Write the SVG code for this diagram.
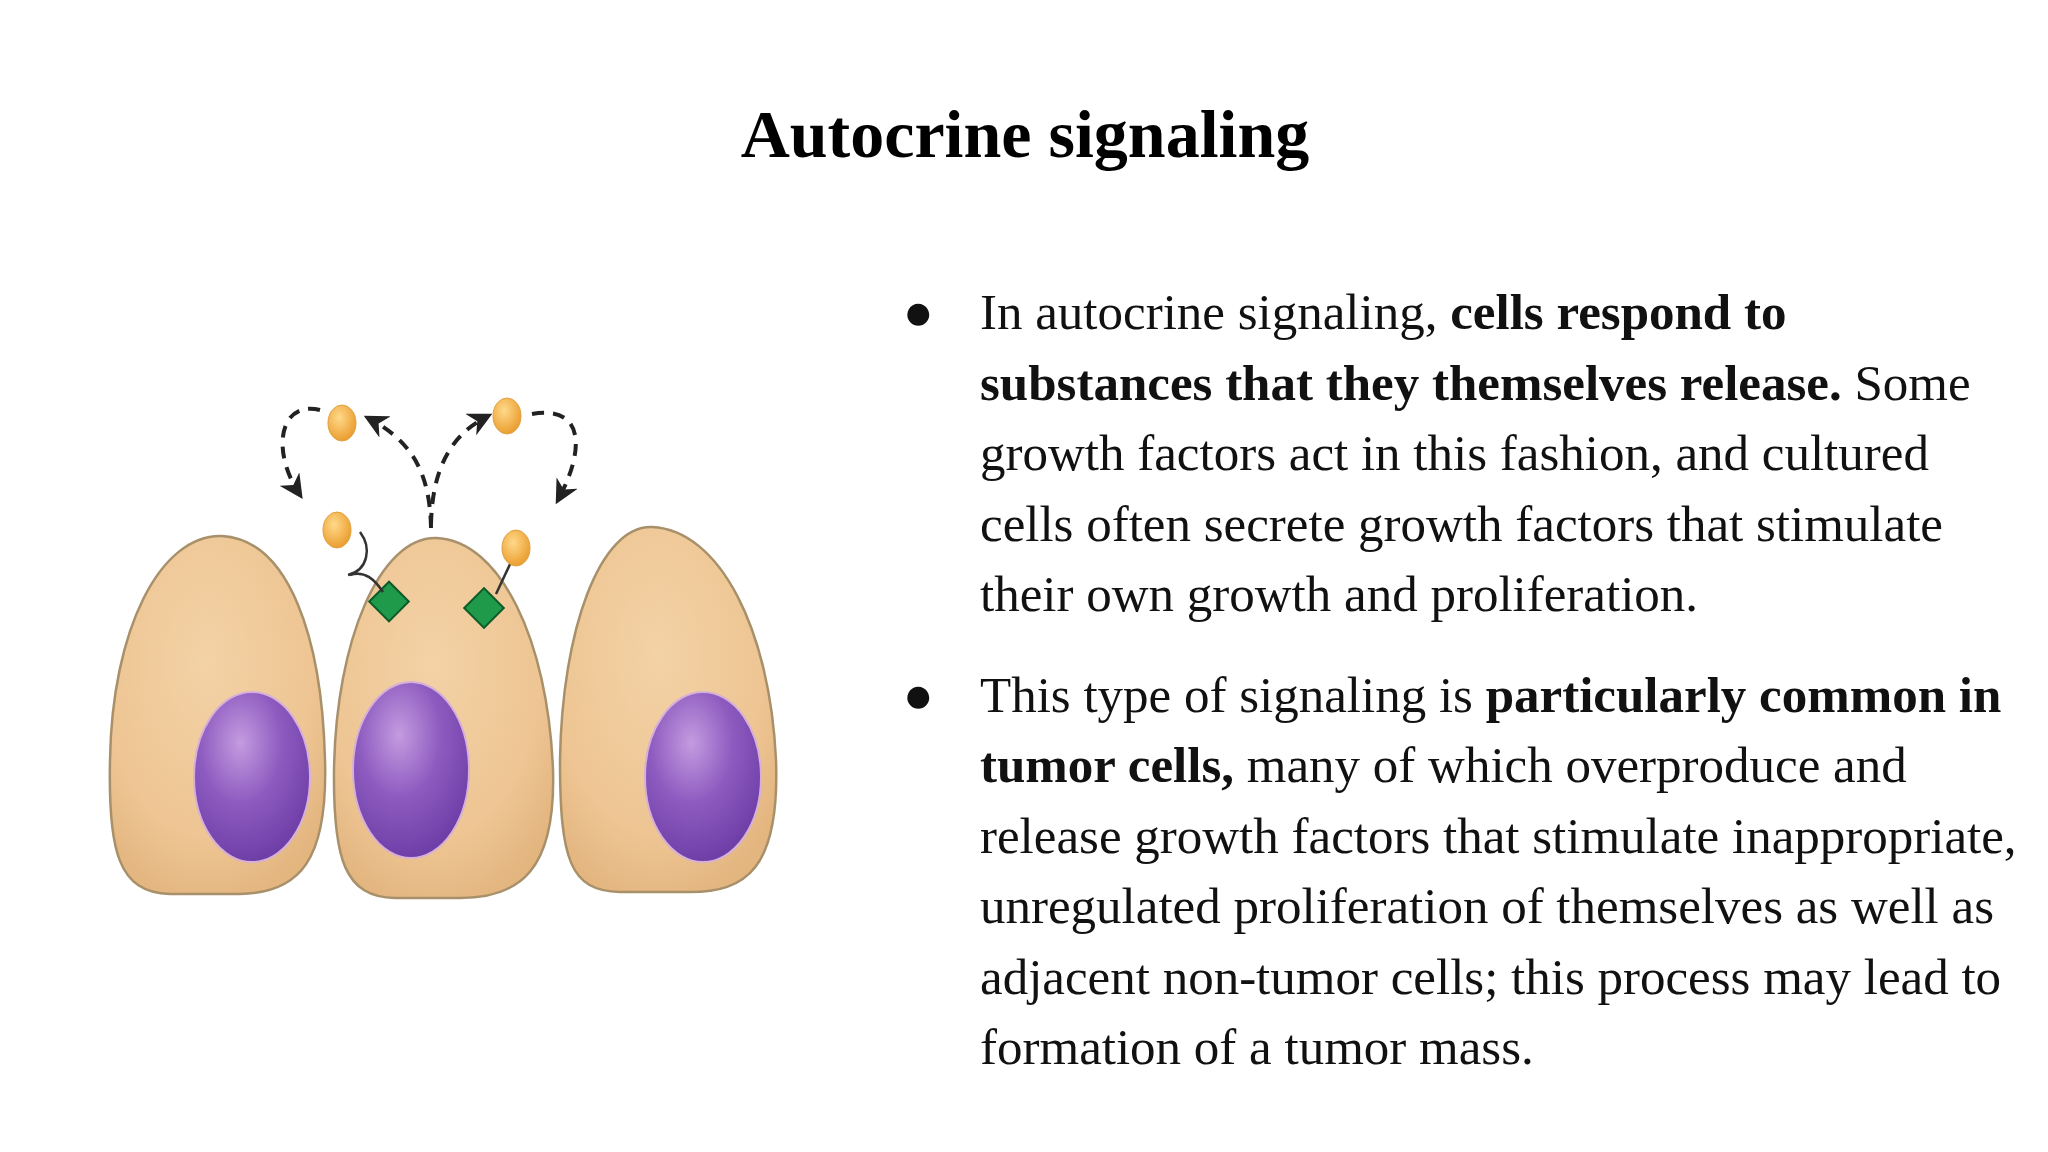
<svg xmlns="http://www.w3.org/2000/svg" width="2048" height="1152" viewBox="0 0 2048 1152">
<defs>
<radialGradient id="cell" cx="0.45" cy="0.35" r="0.7"><stop offset="0" stop-color="#f3d2a6"/><stop offset="0.7" stop-color="#eec593"/><stop offset="1" stop-color="#e3b57f"/></radialGradient>
<radialGradient id="nuc" cx="0.4" cy="0.3" r="0.7"><stop offset="0" stop-color="#c49be0"/><stop offset="0.5" stop-color="#8e5cc0"/><stop offset="1" stop-color="#6f3fa8"/></radialGradient>
<radialGradient id="lig" cx="0.4" cy="0.35" r="0.7"><stop offset="0" stop-color="#ffd98a"/><stop offset="1" stop-color="#e99a2a"/></radialGradient>
<marker id="ah" viewBox="0 0 10 10" refX="8" refY="5" markerWidth="6" markerHeight="6" orient="auto"><path d="M0,0 L10,5 L0,10 L3,5 z" fill="#222"/></marker>
</defs>
<style>
.c{fill:url(#cell);stroke:#a8906a;stroke-width:2.5}
.n{fill:url(#nuc);stroke:#d6b0d8;stroke-width:2}
.l{fill:url(#lig);stroke:#e0a040;stroke-width:1}
.r{fill:#1f9a4a;stroke:#0e5a2a;stroke-width:2}
.d{fill:none;stroke:#222;stroke-width:4;stroke-dasharray:12 9}
.t{font-family:"Liberation Serif",serif;font-size:51px;fill:#111}
.b{font-weight:bold}
</style>
<rect width="2048" height="1152" fill="#fff"/>
<text x="1025" y="157" text-anchor="middle" font-family="Liberation Serif,serif" font-size="68" font-weight="bold" fill="#000">Autocrine signaling</text>
<g id="cell-left"><path class="c" d="M222,536 C290,540 322,640 325,760 C328,860 300,893 240,894 L170,894 C118,893 108,850 110,760 C112,630 160,534 222,536 Z"/><ellipse class="n" cx="252" cy="777" rx="58" ry="85"/></g>
<g id="cell-middle"><path class="c" d="M436,538 C500,540 548,640 553,770 C556,870 520,898 460,898 L395,898 C345,897 333,860 334,770 C336,640 380,537 436,538 Z"/><ellipse class="n" cx="411" cy="770" rx="58" ry="88"/></g>
<g id="cell-right"><path class="c" d="M652,527 C720,530 770,630 776,760 C780,870 745,892 690,892 L620,892 C570,891 560,860 560,760 C562,630 600,525 652,527 Z"/><ellipse class="n" cx="703" cy="777" rx="58" ry="85"/></g>
<g id="receptors"><rect class="r" x="374" y="588" width="28" height="28" transform="rotate(45 389 603)" /><rect class="r" x="470" y="594" width="28" height="28" transform="rotate(45 484 608)"/></g>
<g id="connectors">
<path class="d" d="M320,410 C280,400 270,450 300,495" marker-end="url(#ah)"/>
<path class="d" d="M431,528 C430,470 410,440 368,418" marker-end="url(#ah)"/>
<path class="d" d="M431,525 C432,470 450,435 488,416" marker-end="url(#ah)"/>
<path class="d" d="M532,414 C585,405 585,450 558,500" marker-end="url(#ah)"/>
<path fill="none" stroke="#333" stroke-width="2.5" d="M360,532 C372,548 368,570 348,575 M350,575 C365,570 375,580 383,592"/>
<path fill="none" stroke="#333" stroke-width="2.5" d="M512,560 L496,594"/>
</g>
<g id="ligands"><ellipse class="l" cx="342" cy="423" rx="14" ry="18"/><ellipse class="l" cx="507" cy="416" rx="14" ry="18"/><ellipse class="l" cx="337" cy="530" rx="14" ry="18"/><ellipse class="l" cx="516" cy="548" rx="14" ry="18"/></g>
<g id="text" class="t">
<text x="903" y="329">●</text><text x="903" y="712">●</text>
<text x="980" y="329">In autocrine signaling, <tspan class="b">cells respond to</tspan></text>
<text x="980" y="400"><tspan class="b">substances that they themselves release.</tspan> Some</text>
<text x="980" y="470">growth factors act in this fashion, and cultured</text>
<text x="980" y="541">cells often secrete growth factors that stimulate</text>
<text x="980" y="611">their own growth and proliferation.</text>
<text x="980" y="712">This type of signaling is <tspan class="b">particularly common in</tspan></text>
<text x="980" y="782"><tspan class="b">tumor cells,</tspan> many of which overproduce and</text>
<text x="980" y="853">release growth factors that stimulate inappropriate,</text>
<text x="980" y="923">unregulated proliferation of themselves as well as</text>
<text x="980" y="994">adjacent non-tumor cells; this process may lead to</text>
<text x="980" y="1064">formation of a tumor mass.</text>
</g>
</svg>
